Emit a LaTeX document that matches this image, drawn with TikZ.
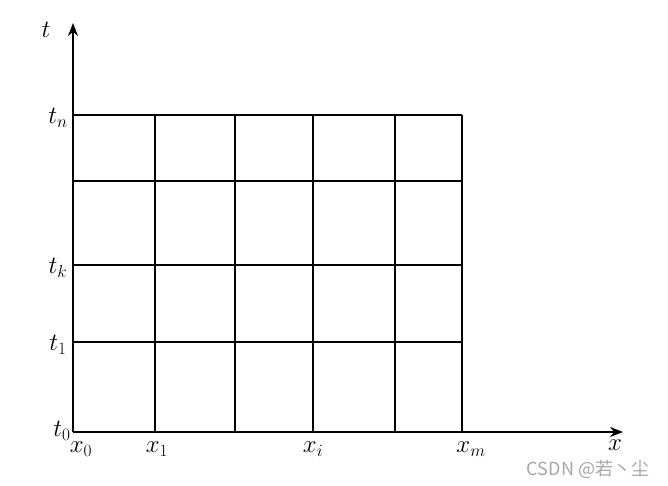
\documentclass[tikz,border=0pt]{standalone}
\usepackage{fontspec}
\newfontfamily\cjk{Noto Sans CJK SC}
\usetikzlibrary{arrows.meta}

\begin{document}
\begin{tikzpicture}[x=1pt, y=1pt,
	gridline/.style={line width=1.4pt, draw=black},
	axisline/.style={line width=1.4pt, draw=black, -{Stealth[length=13pt, width=10pt]}},
	axislabel/.style={inner sep=0pt, font=\fontsize{26}{30}\selectfont}]
	\useasboundingbox (0,0) rectangle (668,485);

	% axes
	\coordinate (origin) at (73,53);
	\coordinate (tEnd) at (73,462);
	\coordinate (xEnd) at (623,53);
	\draw[axisline] (origin) -- (tEnd);
	\draw[axisline] (origin) -- (xEnd);

	% draw vertical grid lines
	\coordinate (xOneB) at (155,53);  \coordinate (xOneT) at (155,370);
	\coordinate (xTwoB) at (235,53);  \coordinate (xTwoT) at (235,370);
	\coordinate (xIB) at (313,53);    \coordinate (xIT) at (313,370);
	\coordinate (xFourB) at (395,53); \coordinate (xFourT) at (395,370);
	\coordinate (xMB) at (462,53);    \coordinate (xMT) at (462,370);
	\draw[gridline] (xOneB) -- (xOneT);
	\draw[gridline] (xTwoB) -- (xTwoT);
	\draw[gridline] (xIB) -- (xIT);
	\draw[gridline] (xFourB) -- (xFourT);
	\draw[gridline] (xMB) -- (xMT);

	% draw horizontal grid lines
	\coordinate (tOneL) at (73,143);   \coordinate (tOneR) at (462,143);
	\coordinate (tKL) at (73,220);     \coordinate (tKR) at (462,220);
	\coordinate (tThreeL) at (73,304); \coordinate (tThreeR) at (462,304);
	\coordinate (tNL) at (73,370);     \coordinate (tNR) at (462,370);
	\draw[gridline] (tOneL) -- (tOneR);
	\draw[gridline] (tKL) -- (tKR);
	\draw[gridline] (tThreeL) -- (tThreeR);
	\draw[gridline] (tNL) -- (tNR);

	% labels
	\node[axislabel](tLabel) at (46,455){$t$};
	\node[axislabel](tnLabel) at (58,367){$t_n$};
	\node[axislabel](tkLabel) at (58,217){$t_k$};
	\node[axislabel](tOneLabel) at (58,140){$t_1$};
	\node[axislabel](tZeroLabel) at (62,54){$t_0$};
	\node[axislabel](xZeroLabel) at (81,36){$x_0$};
	\node[axislabel](xOneLabel) at (157,36){$x_1$};
	\node[axislabel](xILabel) at (313,36){$x_i$};
	\node[axislabel](xMLabel) at (471,36){$x_m$};
	\node[axislabel](xLabel) at (615,40){$x$};

	\node[inner sep=0pt, text=black!35, font=\fontsize{18}{20}\selectfont\cjk](mark) at (588,16){CSDN @若丶尘};
\end{tikzpicture}
\end{document}
